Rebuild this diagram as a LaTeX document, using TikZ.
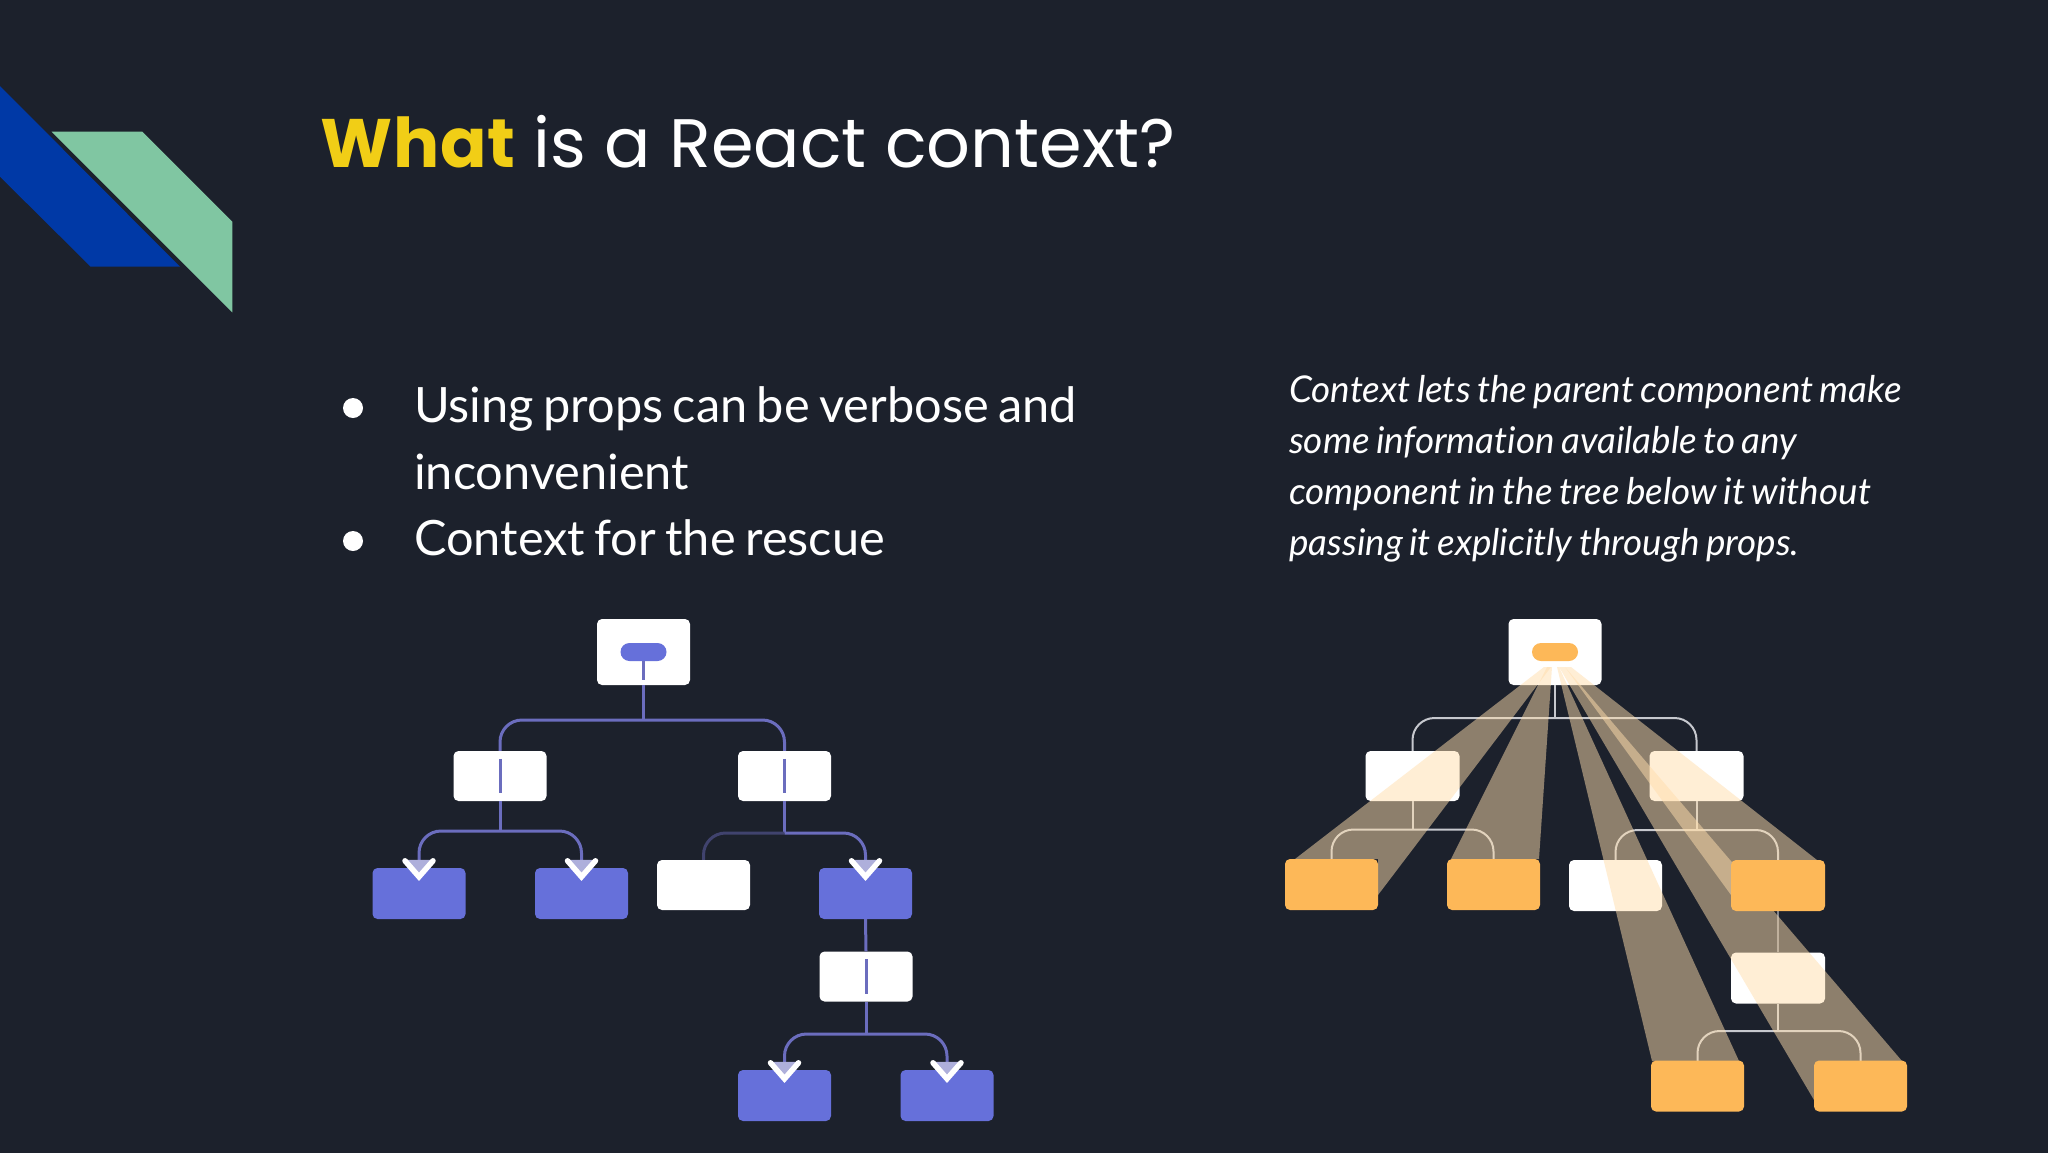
\documentclass[tikz,border=0pt]{standalone}
\usepackage{fontspec}
\setmainfont{Lato}[Ligatures=NoCommon,WordSpace=0.75]
\newfontfamily\titlefont{Poppins}
\definecolor{bgc}{HTML}{1C212C}
\definecolor{bluep}{HTML}{0039A6}
\definecolor{greenp}{HTML}{80C6A2}
\definecolor{ttl}{HTML}{F1CE16}
\definecolor{vio}{HTML}{6670DA}
\definecolor{lin}{HTML}{6B6DBE}
\definecolor{org}{HTML}{FDB858}
\definecolor{beam}{HTML}{FFDEAD}
\definecolor{pale}{HTML}{C6C8CE}
\tikzset{
  x=1pt,y=-1pt,
  wbox/.style={rectangle,rounded corners=5pt,fill=white,draw=none,inner sep=0pt,minimum width=93pt,minimum height=50pt},
  vbox/.style={wbox,fill=vio},
  obox/.style={wbox,fill=org},
  vpill/.style={rectangle,rounded corners=9pt,fill=vio,inner sep=0pt,minimum width=46pt,minimum height=18pt},
  opill/.style={vpill,fill=org},
  vline/.style={draw=lin,line width=3pt},
  vcurve/.style={vline,rounded corners=22pt},
  dimcurve/.style={draw=lin!45!bgc,line width=3pt,rounded corners=22pt},
  oline/.style={draw=pale,line width=2pt},
  ocurve/.style={oline,rounded corners=22pt},
  beamf/.style={fill=beam,fill opacity=.5,draw=none},
  chev/.style={draw=white,line width=5.5pt,line cap=round,line join=miter},
  chevin/.style={fill=lin!55!white,draw=none},
  txt/.style={anchor=base west,inner sep=0pt,text=white},
  bul/.style={circle,fill=white,inner sep=0pt,minimum size=20pt}
}
\newcommand{\chevat}[1]{%
  \fill[chevin] ([shift={(-14,-8)}]#1.north) -- ([shift={(14,-8)}]#1.north) -- ([shift={(0,9)}]#1.north) -- cycle;
  \draw[chev] ([shift={(-14,-7)}]#1.north) -- ([shift={(0,9)}]#1.north) -- ([shift={(14,-7)}]#1.north);
}
\begin{document}
\begin{tikzpicture}
\useasboundingbox (0,0) rectangle (2048,1152);
\fill[bgc] (-3,-3) rectangle (2051,1155);
% corner shapes
\fill[bluep] (0,86) -- (180,266.7) -- (90.7,266.7) -- (0,176.7) -- cycle;
\fill[greenp] (51.7,131.7) -- (142.3,131.7) -- (232.3,221.7) -- (232.3,312.3) -- cycle;
% title
\node[txt,font=\titlefont\fontsize{68.6}{72}\selectfont] (title) at (320,167) {\textbf{\textcolor{ttl}{\addfontfeature{LetterSpace=1.2}What}} is a React context?};
% bullets
\node[bul] (b1) at (353,408) {};
\node[bul] (b2) at (353,541) {};
\node[txt,font=\fontsize{48.7}{56}\selectfont] (t1) at (414,422) {Using props can be verbose and};
\node[txt,font=\fontsize{48.7}{56}\selectfont] (t2) at (414,489) {inconvenient};
\node[txt,font=\fontsize{48.7}{56}\selectfont] (t3) at (414,555) {Context for the rescue};
% right text
\node[txt,font=\itshape\fontsize{36.85}{44}\selectfont] (q1) at (1289,402) {Context lets the parent component make};
\node[txt,font=\itshape\fontsize{36.85}{44}\selectfont] (q2) at (1289,453) {some information available to any};
\node[txt,font=\itshape\fontsize{36.85}{44}\selectfont] (q3) at (1289,504) {component in the tree below it without};
\node[txt,font=\itshape\fontsize{36.85}{44}\selectfont] (q4) at (1289,555) {passing it explicitly through props.};
% left tree
\node[wbox,minimum height=66pt] (lr) at (643.5,652) {};
\node[vpill] (lp) at (643.5,652) {};
\node[wbox] (la) at (500,776) {};
\node[wbox] (lb) at (784.5,776) {};
\node[vbox,minimum height=51pt] (lc) at (419,893.5) {};
\node[vbox,minimum height=51pt] (ld) at (581.5,893.5) {};
\node[wbox] (le) at (703.5,885) {};
\node[vbox,minimum height=51pt] (lf) at (865.5,893.5) {};
\node[wbox] (lg) at (866,976.5) {};
\node[vbox,minimum height=51pt] (lh) at (784.5,1095.5) {};
\node[vbox,minimum height=51pt] (li) at (947,1095.5) {};
\coordinate (lj1) at (643.5,720);
\coordinate (lj2) at (500,831);
\coordinate (lj3) at (784.5,833);
\coordinate (lj4) at (866,1034);
\draw[vline] (lp.south) -- ([yshift=5pt]lr.south);
\draw[vline] (lr.south) -- (lj1);
\draw[vcurve] (la.north) |- (lj1) -| (lb.north);
\draw[vline] ([yshift=-8pt]la.north) -- ([yshift=8pt]la.south);
\draw[vline] ([yshift=-8pt]lb.north) -- ([yshift=8pt]lb.south);
\draw[vline] (la.south) -- (lj2);
\draw[vline] (lb.south) -- (lj3);
\draw[vcurve] ([yshift=3pt]lc.north) |- (lj2) -| ([yshift=3pt]ld.north);
\draw[dimcurve] (le.north) |- (lj3);
\draw[vcurve] (lj3) -| ([yshift=3pt]lf.north);
\draw[vline] (lf.south) -- (lg.north);
\draw[vline] ([yshift=-8pt]lg.north) -- ([yshift=8pt]lg.south);
\draw[vline] (lg.south) -- (lj4);
\draw[vcurve] ([yshift=3pt]lh.north) |- (lj4) -| ([yshift=3pt]li.north);
\chevat{lc}\chevat{ld}\chevat{lf}\chevat{lh}\chevat{li}
% right tree
\node[wbox,minimum height=66pt] (rr) at (1555,652) {};
\node[wbox,minimum width=94pt] (ra) at (1412.5,776) {};
\node[wbox,minimum width=94pt] (rb) at (1696.5,776) {};
\node[wbox,minimum width=93pt,minimum height=51pt] (re) at (1615.5,885.5) {};
\node[wbox,minimum width=94pt,minimum height=51pt] (rg) at (1778,978) {};
\coordinate (rj1) at (1555,718);
\coordinate (rj2) at (1412.5,829.5);
\coordinate (rj3) at (1696.5,830);
\coordinate (rj4) at (1778,1031);
\coordinate (rc0) at (1331.5,859);
\coordinate (rd0) at (1493.5,859);
\coordinate (rf0) at (1778,860);
\coordinate (rh0) at (1697.5,1061);
\coordinate (ri0) at (1860.5,1061);
\draw[oline] (rr.south) -- (rj1);
\draw[ocurve] (ra.north) |- (rj1) -| (rb.north);
\draw[oline] (ra.south) -- (rj2);
\draw[oline] (rb.south) -- (rj3);
\draw[ocurve] (rc0) |- (rj2) -| (rd0);
\draw[ocurve] (re.north) |- (rj3) -| (rf0);
\draw[oline,opacity=.6] (rf0 |- 0,910) -- (rg.north);
\draw[oline] (rg.south) -- (rj4);
\draw[ocurve] (rh0) |- (rj4) -| (ri0);
% light beams
\fill[beamf] (1544,667) -- (1551,667) -- (1378,895) -- (1378,859) -- (1295,859) -- cycle;
\fill[beamf] (1547,667) -- (1552,667) -- (1539,859) -- (1451,859) -- cycle;
\fill[beamf] (1557,667) -- (1559,667) -- (1739,1061) -- (1652,1061) -- cycle;
\fill[beamf] (1559,667) -- (1565,667) -- (1902,1061) -- (1814,1100) -- cycle;
\fill[beamf] (1565,667) -- (1571,667) -- (1817,860) -- (1731,895) -- cycle;
% orange boxes above beams
\node[obox,minimum width=93pt,minimum height=51pt] (rc) at (1331.5,884.5) {};
\node[obox,minimum width=93pt,minimum height=51pt] (rd) at (1493.5,884.5) {};
\node[obox,minimum width=94pt,minimum height=51pt] (rf) at (1778,885.5) {};
\node[obox,minimum width=93pt,minimum height=51pt] (rh) at (1697.5,1086) {};
\node[obox,minimum width=93pt,minimum height=51pt] (ri) at (1860.5,1086) {};
\node[opill] (rp) at (1555,652) {};
\end{tikzpicture}
\end{document}
